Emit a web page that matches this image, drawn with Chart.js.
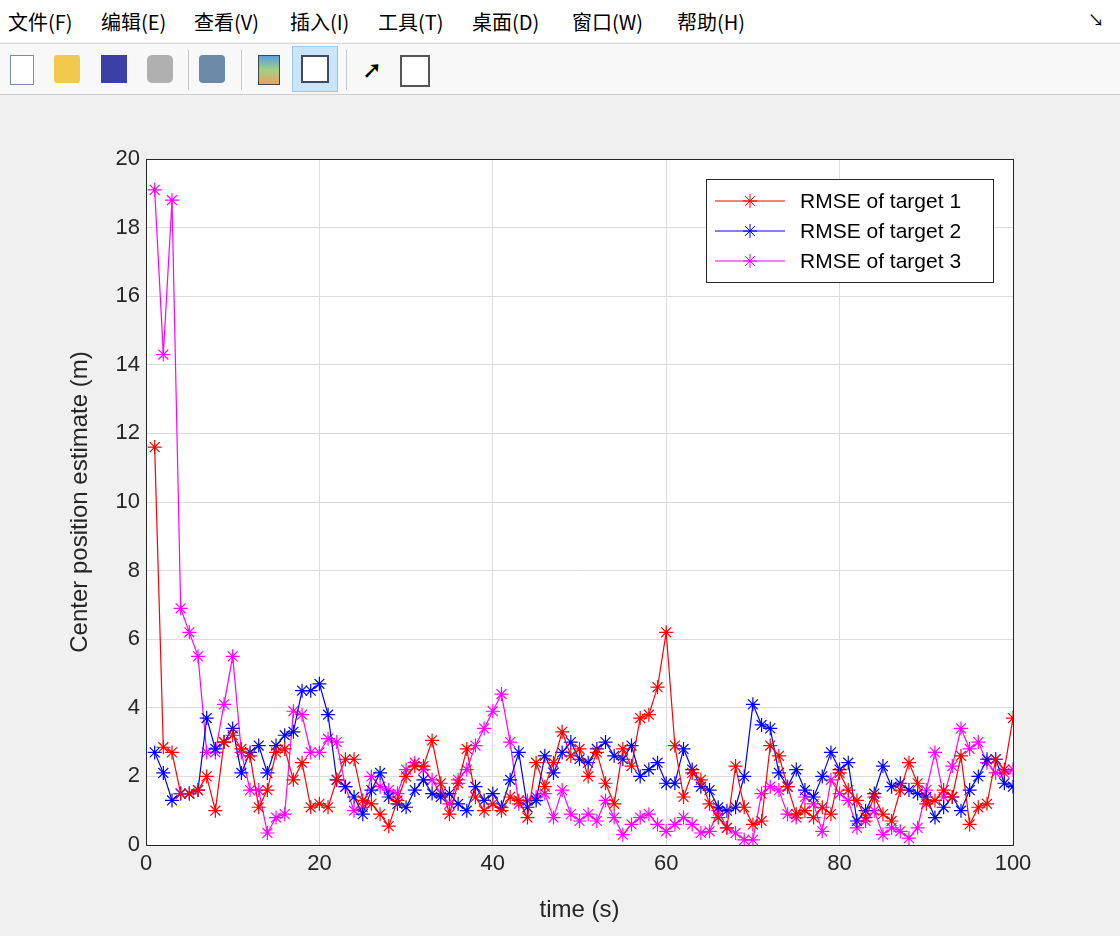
<!DOCTYPE html>
<html>
<head>
<meta charset="utf-8">
<script src="https://cdn.jsdelivr.net/npm/chart.js@4"></script>
<style>
    body { margin: 0; width: 1120px; height: 936px; background: #f0f0f0; overflow: hidden; font-family: "Noto Sans CJK SC", sans-serif; position: relative; }
    .menu { position: absolute; left: 0; top: 0; width: 1120px; height: 42px; background: #fff; font-size: 20px; color: #000; }
    .menu span { position: absolute; top: 7px; }
    .tools { position: absolute; left: 0; top: 43px; width: 1120px; height: 50px; background: #f8f8f8; border-top: 1px solid #d8d8d8; border-bottom: 1px solid #d0d0d0; }
    .ic { position: absolute; top: 11px; width: 26px; height: 28px; }
    .sep { position: absolute; top: 6px; width: 1px; height: 40px; background: #c8c8c8; }
    #wrap { position: absolute; left: 0; top: 95px; width: 1120px; height: 841px; }
</style>
</head>
<body>
<div class="menu">
    <span style="left:8px">文件(F)</span>
    <span style="left:101px">编辑(E)</span>
    <span style="left:194px">查看(V)</span>
    <span style="left:290px">插入(I)</span>
    <span style="left:378px">工具(T)</span>
    <span style="left:472px">桌面(D)</span>
    <span style="left:572px">窗口(W)</span>
    <span style="left:677px">帮助(H)</span>
    <span style="left:1088px;font-size:16px">↘</span>
</div>
<div class="tools">
    <div class="ic" style="left:10px;background:#fff;border:1px solid #7a8aa8;width:22px"></div>
    <div class="ic" style="left:54px;background:#f2c94c;border-radius:3px"></div>
    <div class="ic" style="left:101px;background:#3b3fa8"></div>
    <div class="ic" style="left:147px;background:#b0b0b0;border-radius:5px"></div>
    <div class="sep" style="left:188px"></div>
    <div class="ic" style="left:199px;background:#6a8aa8;border-radius:4px"></div>
    <div class="sep" style="left:241px"></div>
    <div class="ic" style="left:258px;width:20px;background:linear-gradient(#5aa0e0,#a0d080,#f0a060);border:1px solid #444"></div>
    <div style="position:absolute;left:292px;top:2px;width:44px;height:44px;background:#cce4f7;border:1px solid #99c8ec"></div>
    <div class="ic" style="left:301px;background:#fff;border:2px solid #404a60;width:24px;height:24px"></div>
    <div class="sep" style="left:346px"></div>
    <div class="ic" style="left:362px;font-size:24px;top:6px">➚</div>
    <div class="ic" style="left:400px;background:#fff;border:2px solid #555"></div>
</div>
<div id="wrap"><canvas id="c"></canvas></div>
<script>
const steps = Array.from({ length: 100 }, (_, i) => i + 1);
const xTicks = [0, 20, 40, 60, 80, 100];
const yTicks = [0, 2, 4, 6, 8, 10, 12, 14, 16, 18, 20];

const rmse1 = [11.6, 2.85, 2.7, 1.5, 1.5, 1.6, 2.0, 1.0, 3.0, 3.2, 2.8, 2.6, 1.1, 1.6, 2.7, 2.8, 1.9, 2.4, 1.1, 1.2,
    1.1, 1.9, 2.5, 2.5, 1.3, 1.2, 0.9, 0.55, 1.3, 2.0, 2.3, 2.3, 3.05, 1.8, 0.9, 1.8, 2.8, 1.4, 1.0, 1.2,
    1.0, 1.4, 1.3, 0.8, 2.4, 1.7, 2.4, 3.3, 2.6, 2.8, 2.0, 2.7, 1.8, 1.2, 2.8, 2.3, 3.7, 3.8, 4.6, 6.2,
    2.9, 1.4, 2.1, 1.9, 1.2, 0.8, 0.5, 2.3, 1.1, 0.6, 0.7, 2.9, 2.6, 1.7, 0.9, 1.0, 0.8, 1.1, 0.9, 2.1,
    1.6, 1.3, 0.8, 1.4, 0.9, 0.7, 1.6, 2.4, 1.8, 1.2, 1.3, 1.6, 1.4, 2.6, 0.6, 1.1, 1.2, 2.5, 2.2, 3.7];
const rmse2 = [2.7, 2.1, 1.3, 1.5, 1.5, 1.6, 3.7, 2.8, 3.0, 3.4, 2.1, 2.7, 2.9, 2.1, 2.9, 3.2, 3.3, 4.5, 4.5, 4.7,
    3.8, 1.9, 1.7, 1.4, 0.9, 1.6, 2.1, 1.4, 1.2, 1.1, 1.6, 1.9, 1.5, 1.4, 1.5, 1.2, 1.0, 1.7, 1.3, 1.5,
    1.1, 1.9, 2.7, 1.1, 1.3, 2.6, 2.1, 2.7, 3.0, 2.5, 2.4, 2.8, 3.0, 2.6, 2.5, 2.9, 2.0, 2.2, 2.4, 1.8,
    1.8, 2.8, 2.2, 1.7, 1.6, 1.1, 1.0, 1.1, 2.0, 4.1, 3.5, 3.4, 2.1, 1.7, 2.2, 1.6, 1.4, 2.0, 2.7, 2.2,
    2.4, 0.7, 1.0, 1.5, 2.3, 1.7, 1.8, 1.6, 1.5, 1.4, 0.8, 1.1, 1.4, 1.0, 1.6, 2.0, 2.5, 2.5, 1.8, 1.7];
const rmse3 = [19.1, 14.3, 18.8, 6.9, 6.2, 5.5, 2.7, 2.7, 4.1, 5.5, 2.7, 1.6, 1.6, 0.35, 0.8, 0.9, 3.9, 3.8, 2.7, 2.7,
    3.1, 3.0, 1.7, 1.0, 1.1, 2.0, 1.7, 1.6, 1.5, 2.2, 2.4, 2.2, 1.9, 1.5, 1.2, 1.9, 2.2, 2.9, 3.4, 3.9,
    4.4, 3.0, 1.2, 1.3, 1.4, 1.5, 0.8, 1.6, 0.9, 0.7, 0.9, 0.7, 1.3, 0.8, 0.3, 0.6, 0.8, 0.9, 0.6, 0.4,
    0.6, 0.8, 0.6, 0.35, 0.4, 1.0, 0.5, 0.35, 0.15, 0.15, 1.5, 1.7, 1.6, 0.9, 0.8, 1.4, 1.2, 0.4, 1.9, 1.5,
    1.3, 0.5, 0.7, 1.0, 0.3, 0.5, 0.4, 0.2, 0.5, 1.6, 2.7, 1.4, 2.3, 3.4, 2.8, 3.0, 2.4, 2.1, 2.1, 2.2];

const labels = ['RMSE of target 1', 'RMSE of target 2', 'RMSE of target 3'];
const colors = ['#ff0000', '#0000ff', '#ff00ff'];
const series = [rmse1, rmse2, rmse3];

const tickFont = { family: 'Liberation Sans, Arial', size: 22 };
const titleFont = '24px Liberation Sans, Arial';

const matlabBox = {
    id: 'matlabBox',
    beforeDraw(chart) {
        const { ctx, chartArea: a } = chart;
        ctx.save();
        ctx.fillStyle = '#fff';
        ctx.fillRect(a.left, a.top, a.right - a.left, a.bottom - a.top);
        ctx.restore();
    },
    afterDraw(chart) {
        const { ctx, chartArea: a } = chart;
        ctx.save();
        ctx.strokeStyle = '#262626';
        ctx.lineWidth = 1;
        ctx.strokeRect(a.left + 0.5, a.top + 0.5, a.right - a.left, a.bottom - a.top);
        // axis titles
        ctx.fillStyle = '#262626';
        ctx.font = titleFont;
        ctx.textAlign = 'center';
        ctx.textBaseline = 'middle';
        ctx.fillText('time (s)', (a.left + a.right) / 2, 910 - 95);
        ctx.save();
        ctx.translate(80, (a.top + a.bottom) / 2);
        ctx.rotate(-Math.PI / 2);
        ctx.fillText('Center position estimate (m)', 0, 0);
        ctx.restore();
        // legend
        const lx = 706, ly = 179 - 95, lw = 287, lh = 103;
        ctx.fillStyle = '#fff';
        ctx.fillRect(lx, ly, lw, lh);
        ctx.strokeRect(lx + 0.5, ly + 0.5, lw, lh);
        ctx.font = '21px Liberation Sans, Arial';
        ctx.textAlign = 'left';
        labels.forEach((t, i) => {
            const y = ly + 22 + i * 30;
            ctx.strokeStyle = colors[i];
            ctx.beginPath();
            ctx.moveTo(lx + 9, y); ctx.lineTo(lx + 79, y);
            ctx.stroke();
            const cx = lx + 44, r = 7;
            ctx.beginPath();
            for (let k = 0; k < 4; k++) {
                const ang = k * Math.PI / 4;
                ctx.moveTo(cx - r * Math.cos(ang), y - r * Math.sin(ang));
                ctx.lineTo(cx + r * Math.cos(ang), y + r * Math.sin(ang));
            }
            ctx.stroke();
            ctx.fillStyle = '#000';
            ctx.fillText(t, lx + 94, y + 1);
        });
        ctx.restore();
    }
};

new Chart(document.getElementById('c'), {
    type: 'line',
    data: {
        datasets: series.map((s, i) => ({
            label: labels[i],
            data: s.map((v, j) => ({ x: steps[j], y: v })),
            borderColor: colors[i],
            backgroundColor: colors[i],
            borderWidth: 1.2,
            pointStyle: 'star',
            pointRadius: 7,
            pointBorderWidth: 1.2,
            tension: 0
        }))
    },
    options: {
        responsive: true,
        maintainAspectRatio: false,
        animation: false,
        layout: { padding: { top: 64, right: 107 } },
        plugins: { legend: { display: false }, tooltip: { enabled: false } },
        scales: {
            x: {
                type: 'linear', min: 0, max: 100,
                afterBuildTicks: s => { s.ticks = xTicks.map(v => ({ value: v })); },
                afterFit: s => { s.height = 91; },
                grid: { color: '#dcdcdc', tickLength: -8 },
                border: { display: false },
                ticks: { color: '#262626', font: tickFont, padding: 14, maxRotation: 0 }
            },
            y: {
                min: 0, max: 20,
                afterBuildTicks: s => { s.ticks = yTicks.map(v => ({ value: v })); },
                afterFit: s => { s.width = 146; },
                grid: { color: '#dcdcdc', tickLength: -8 },
                border: { display: false },
                ticks: { color: '#262626', font: tickFont, padding: 14 }
            }
        }
    },
    plugins: [matlabBox]
});
</script>
</body>
</html>
